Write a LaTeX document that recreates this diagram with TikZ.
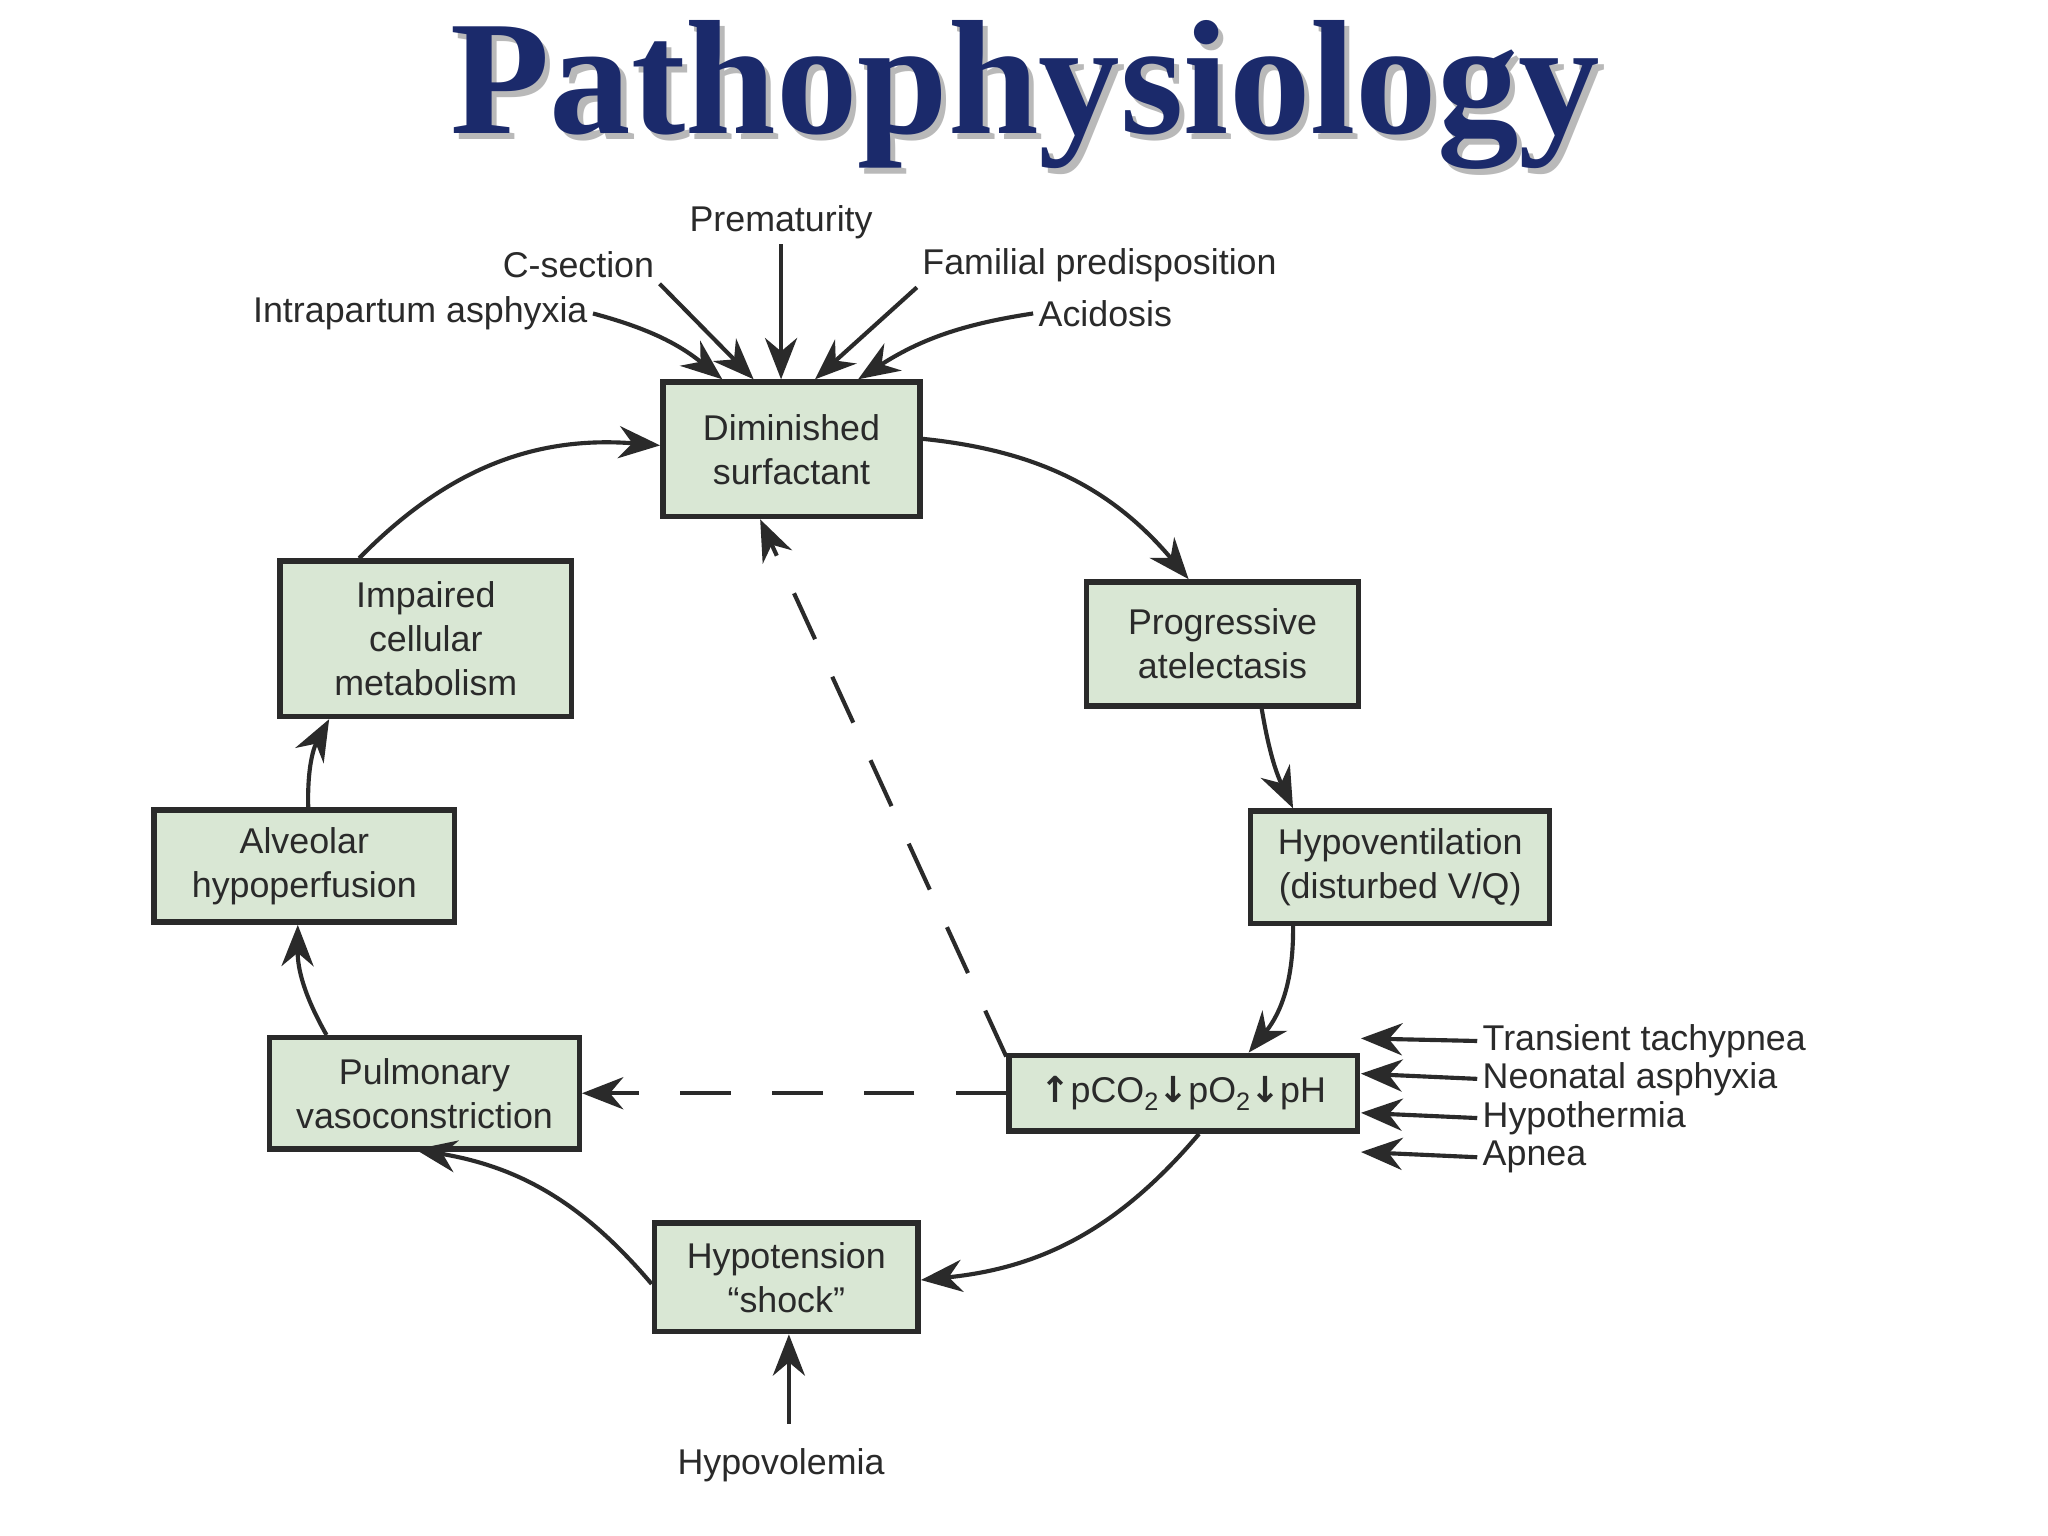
\documentclass[tikz,border=0pt]{standalone}
\usepackage{fontspec}
\setmainfont{Liberation Sans}
\newfontfamily\titlefont{Liberation Serif}
\newfontfamily\symfont{DejaVu Sans}
\usetikzlibrary{arrows.meta}
\definecolor{boxfill}{HTML}{D9E7D4}
\definecolor{navy}{HTML}{1B2A6B}
\definecolor{ink}{HTML}{2A2A2A}
\newcommand{\subtwo}{\raisebox{-0.45ex}{\fontsize{5.5}{6}\selectfont 2}}
\begin{document}
\begin{tikzpicture}[x=0.1mm,y=-0.1mm,
  box/.style={draw=ink,line width=1.2pt,fill=boxfill,align=center,font=\fontsize{7.8}{9.6}\selectfont,text=ink,inner sep=0pt},
  lbl/.style={font=\fontsize{7.8}{9.6}\selectfont,text=ink,inner sep=1pt},
  arr/.style={-{Stealth[length=9pt,width=7pt]},line width=0.9pt,draw=ink},
  dsh/.style={arr,dash pattern=on 11pt off 9pt}]
\useasboundingbox (0,0) rectangle (1568,1176);
\fill[white] (0,0) rectangle (1568,1176);
\node[text=gray!55,font=\titlefont\bfseries\fontsize{35.5}{40}\selectfont] at (789,77) {Pathophysiology};
\node[text=navy,font=\titlefont\bfseries\fontsize{35.5}{40}\selectfont] (title) at (785,73) {Pathophysiology};

\node[box,minimum width=19.7mm,minimum height=10.3mm] (dim) at (606,344) {Diminished\\surfactant};
\node[box,minimum width=20.8mm,minimum height=9.5mm] (prog) at (936,493) {Progressive\\atelectasis};
\node[box,minimum width=22.9mm,minimum height=8.6mm] (hv) at (1072,664) {Hypoventilation\\(disturbed V/Q)};
\node[box,minimum width=26.7mm,minimum height=5.8mm] (bg) at (906,837) {{\symfont\bfseries ↑}pCO\subtwo{\symfont\bfseries ↓}pO\subtwo{\symfont\bfseries ↓}pH};
\node[box,minimum width=20.2mm,minimum height=8.3mm] (ht) at (602,978) {Hypotension\\“shock”};
\node[box,minimum width=23.7mm,minimum height=8.5mm] (pv) at (325,837) {Pulmonary\\vasoconstriction};
\node[box,minimum width=23mm,minimum height=8.6mm] (ah) at (233,663) {Alveolar\\hypoperfusion};
\node[box,minimum width=22.3mm,minimum height=11.9mm] (ic) at (326,489) {Impaired\\cellular\\metabolism};

% top inputs
\node[lbl] (prem) at (598,170) {Prematurity};
\node[lbl,anchor=east] (cs) at (505,203) {C-section};
\node[lbl,anchor=east] (ia) at (454,240) {Intrapartum asphyxia};
\node[lbl,anchor=west] (fp) at (702,203) {Familial predisposition};
\node[lbl,anchor=west] (ac) at (791,240) {Acidosis};
\draw[arr] (prem.south) -- (dim.north -| prem.south);
\draw[arr] (cs.south east) -- ([xshift=-2.9mm]dim.north);
\draw[arr] (ia.east) to[bend left=12] ([xshift=-5.3mm]dim.north);
\draw[arr] (fp.south west) -- ([xshift=1.8mm]dim.north);
\draw[arr] (ac.west) to[bend right=12] ([xshift=5.1mm]dim.north);

% right inputs
\node[lbl,anchor=west] (tt) at (1131,797) {Transient tachypnea};
\node[lbl,anchor=west] (na) at (1131,826) {Neonatal asphyxia};
\node[lbl,anchor=west] (hy) at (1131,856) {Hypothermia};
\node[lbl,anchor=west] (ap) at (1131,886) {Apnea};
\coordinate (e1) at (1042,795); \coordinate (e2) at (1042,822);
\coordinate (e3) at (1042,852); \coordinate (e4) at (1042,882);
\draw[arr] (tt.west) -- (e1);
\draw[arr] (na.west) -- (e2);
\draw[arr] (hy.west) -- (e3);
\draw[arr] (ap.west) -- (e4);

\node[lbl] (hvol) at (598,1122) {Hypovolemia};
\coordinate (hvtop) at (604,1090);
\draw[arr] (hvtop) -- (hvtop |- ht.south);

% cycle
\draw[arr] ([yshift=0.8mm]dim.east) to[bend left=22] ([xshift=-2.6mm]prog.north);
\draw[arr] ([xshift=3mm]prog.south) to[bend right=8] ([xshift=-8.2mm]hv.north);
\draw[arr] ([xshift=-8.2mm]hv.south) to[bend left=20] ([xshift=5mm]bg.north);
\draw[arr] ([xshift=1.2mm]bg.south) to[bend left=22] ([yshift=-0.2mm]ht.east);
\draw[arr] ([yshift=-0.5mm]ht.west) to[bend right=20] (318,880);
\draw[arr] ([xshift=-7.5mm]pv.north) to[bend left=15] ([xshift=-0.5mm]ah.south);
\draw[arr] ([xshift=0.3mm]ah.north) to[bend left=15] ([xshift=-7.4mm]ic.south);
\draw[arr] ([xshift=-5.1mm]ic.north) to[bend left=25] ([yshift=0.3mm]dim.west);

\draw[dsh] (bg.west) -- (pv.east |- bg.west);
\draw[dsh] ([yshift=-0.3mm]bg.north west) -- ([xshift=-2.4mm]dim.south);
\end{tikzpicture}
\end{document}
